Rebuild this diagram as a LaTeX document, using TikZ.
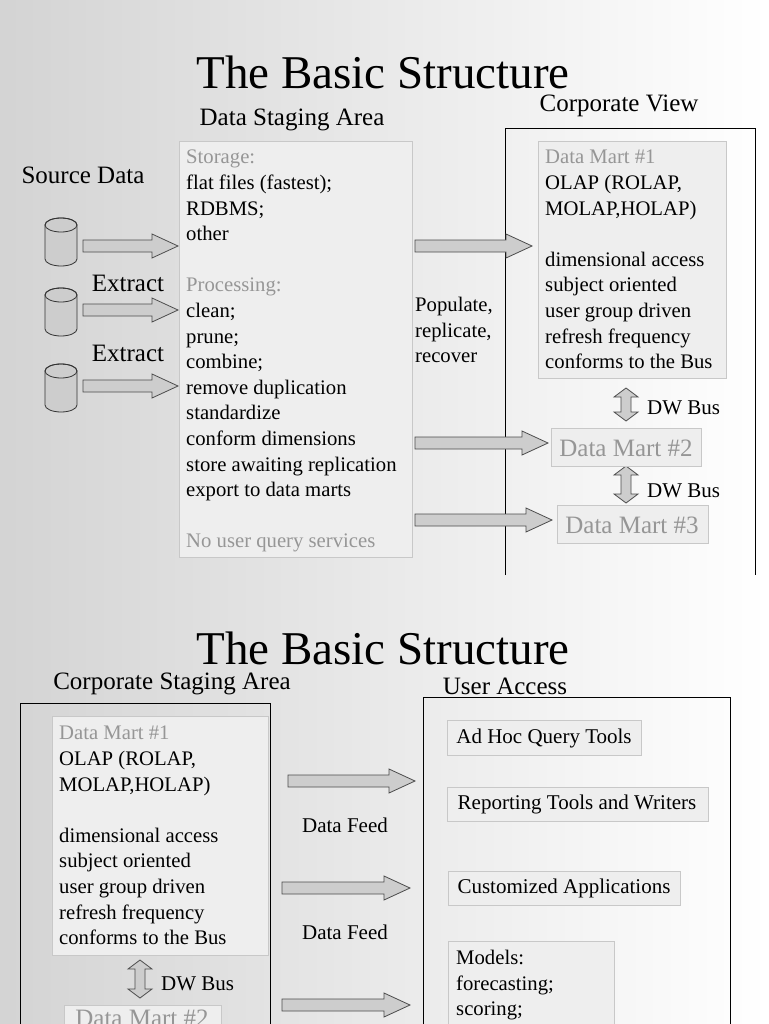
\documentclass[tikz,border=0pt]{standalone}
\usepackage{fontspec}
\setmainfont{Liberation Serif}
\usetikzlibrary{shapes.geometric}
\definecolor{lgray}{RGB}{150,150,150}
\definecolor{boxfill}{RGB}{238,238,238}
\definecolor{boxline}{RGB}{200,200,200}
\definecolor{arrfill}{RGB}{205,205,205}
\newcommand\blockarrow[3]{% x1 x2 y
  \filldraw[fill=arrfill,draw=black!70,line width=0.8pt]
    (#1,#3-6) -- (#2-26,#3-6) -- (#2-26,#3-12) -- (#2,#3) -- (#2-26,#3+12) -- (#2-26,#3+6) -- (#1,#3+6) -- cycle;}
\newcommand\dblarrow[3]{% x y1 y2
  \filldraw[fill=arrfill,draw=black!70,line width=0.8pt]
    (#1,#2) -- (#1+12,#2+9) -- (#1+5,#2+9) -- (#1+5,#3-9) -- (#1+12,#3-9) -- (#1,#3) -- (#1-12,#3-9) -- (#1-5,#3-9) -- (#1-5,#2+9) -- (#1-12,#2+9) -- cycle;}
\newcommand\cyl[2]{% cx cy
  \filldraw[fill=arrfill,draw=black!80,line width=0.8pt]
    (#1-16,#2-17) -- (#1-16,#2+17) arc[start angle=180,end angle=0,x radius=16,y radius=7] -- (#1+16,#2-17) arc[start angle=0,end angle=-180,x radius=16,y radius=7];
  \draw[black!80,line width=0.8pt] (#1,#2-17) ellipse[x radius=16,y radius=7];}
\tikzset{
  body/.style={font=\fontsize{20.7}{25.6}\selectfont,align=left,anchor=north west,inner sep=0pt},
  lab/.style={font=\fontsize{21}{25}\selectfont,inner sep=0pt},
  head/.style={font=\fontsize{25}{28}\selectfont,inner sep=0pt},
  title/.style={font=\fontsize{47}{50}\selectfont,inner sep=0pt},
  sbox/.style={fill=boxfill,draw=boxline,line width=0.8pt},
  gtext/.style={text=lgray}
}
\begin{document}
\begin{tikzpicture}[x=1pt,y=-1pt]
\useasboundingbox (0,0) rectangle (768,1024);
\shade[left color=black!17,right color=white] (0,0) rectangle (768,1024);
% ---------- top slide ----------
\node[title] (t1) at (383,72) {The Basic Structure};
\node[head] (dsa) at (292,120) {Data Staging Area};
\node[head] (cv) at (619,106) {Corporate View};
\node[head] (src) at (83,175) {Source Data};
\draw[line width=0.8pt] (505,575) -- (505,128) -- (755,128) -- (755,575);
\filldraw[sbox] (179,141) rectangle (412,557);
\node[body] (stg) at (186,150) {\textcolor{lgray}{Storage:}\\flat files (fastest);\\RDBMS;\\other\\[25.6pt]\textcolor{lgray}{Processing:}\\clean;\\prune;\\combine;\\remove duplication\\standardize\\conform dimensions\\store awaiting replication\\export to data marts};
\node[body,gtext,anchor=west] (nuq) at (186,543) {No user query services};
\cyl{61}{242}\cyl{61}{312}\cyl{61}{388}
\blockarrow{83}{178}{246}
\blockarrow{83}{178}{310}
\blockarrow{83}{178}{386}
\node[head] (ex1) at (128,283) {Extract};
\node[head] (ex2) at (128,353) {Extract};
\filldraw[sbox] (538,141) rectangle (726,378);
\node[body] (dm1) at (545,150) {\textcolor{lgray}{Data Mart \#1}\\OLAP (ROLAP,\\MOLAP,HOLAP)\\[25.6pt]dimensional access\\subject oriented\\user group driven\\refresh frequency\\conforms to the Bus};
\blockarrow{415}{532}{246}
\blockarrow{415}{548}{443}
\blockarrow{415}{552}{520}
\node[body] (pop) at (415,297) {Populate,\\replicate,\\recover};
\dblarrow{626}{388}{421}
\node[lab,anchor=west] (b1) at (647,408) {DW Bus};
\dblarrow{626}{466}{503}
\node[lab,anchor=west] (b2) at (647,491) {DW Bus};
\filldraw[sbox] (551,428) rectangle (701,466);
\node[head,gtext] (dm2) at (626,448) {Data Mart \#2};
\filldraw[sbox] (557,505) rectangle (708,543);
\node[head,gtext] (dm3) at (632,525) {Data Mart \#3};
% ---------- bottom slide ----------
\node[title] (t2) at (383,648) {The Basic Structure};
\node[head] (csa) at (172,684) {Corporate Staging Area};
\node[head] (ua) at (505,686) {User Access};
\draw[line width=0.8pt] (20,1024) -- (20,703) -- (270,703) -- (270,1024);
\draw[line width=0.8pt] (423,1024) -- (423,697) -- (730,697) -- (730,1024);
\filldraw[sbox] (52,716) rectangle (268,955);
\node[body] (bdm1) at (59,726) {\textcolor{lgray}{Data Mart \#1}\\OLAP (ROLAP,\\MOLAP,HOLAP)\\[25.6pt]dimensional access\\subject oriented\\user group driven\\refresh frequency\\conforms to the Bus};
\dblarrow{140}{960}{998}
\node[lab,anchor=west] (b3) at (161,984) {DW Bus};
\filldraw[sbox] (64,1005) rectangle (221,1040);
\node[head,gtext,anchor=north] (bdm2) at (142,1010) {Data Mart \#2};
\blockarrow{288}{415}{781}
\blockarrow{282}{410}{888}
\blockarrow{282}{410}{1005}
\node[lab] (df1) at (345,825) {Data Feed};
\node[lab] (df2) at (345,932) {Data Feed};
\filldraw[sbox] (447,720) rectangle (641,755);
\node[lab] (ah) at (544,738) {Ad Hoc Query Tools};
\filldraw[sbox] (447,787) rectangle (708,821);
\node[lab] (rt) at (577,804) {Reporting Tools and Writers};
\filldraw[sbox] (448,871) rectangle (680,905);
\node[lab] (ca) at (564,888) {Customized Applications};
\filldraw[sbox] (448,941) rectangle (614,1040);
\node[body] (mod) at (456,950) {Models:\\forecasting;\\scoring;};
\end{tikzpicture}
\end{document}
